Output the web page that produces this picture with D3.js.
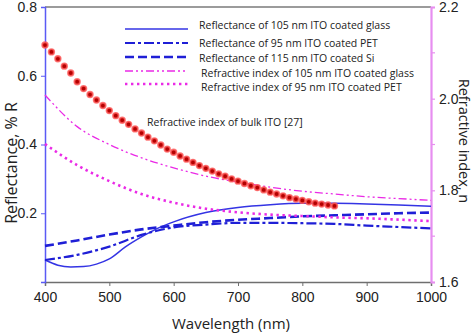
<!DOCTYPE html>
<html>
<head>
<meta charset="utf-8">
<script src="https://cdn.jsdelivr.net/npm/d3@7"></script>
<style>
  body { margin: 0; background: #fff; }
  svg { display: block; font-family: "Open Sans", "Noto Sans", sans-serif; }
</style>
</head>
<body>
<svg id="chart" width="474" height="336"></svg>
<script>
// Wavelength grids (nm)
var wlBulk = d3.range(400, 851, 10);
var wlFilm = [400, 450, 500, 550, 600, 650, 700, 750, 800, 850, 900, 950, 1000];
var wlGlassR = [400, 420, 440, 460, 480, 500, 525, 550, 575, 600, 650, 700, 750, 800, 850, 900, 950, 1000];

// Refractive index of bulk ITO
var nBulk = [2.117, 2.102, 2.087, 2.071, 2.056, 2.037, 2.022, 2.009, 1.997, 1.985,
             1.974, 1.963, 1.953, 1.944, 1.934, 1.925, 1.916, 1.908, 1.899, 1.890,
             1.883, 1.875, 1.868, 1.861, 1.854, 1.848, 1.842, 1.836, 1.831, 1.825,
             1.820, 1.815, 1.810, 1.806, 1.801, 1.796, 1.792, 1.788, 1.784, 1.781,
             1.778, 1.775, 1.772, 1.770, 1.768, 1.766];

// Refractive index of the films
var nGlass = [2.008, 1.939, 1.900, 1.871, 1.849, 1.831, 1.818, 1.807, 1.798, 1.792, 1.786, 1.782, 1.778];
var nPET = [1.901, 1.855, 1.820, 1.792, 1.773, 1.760, 1.752, 1.747, 1.744, 1.741, 1.739, 1.736, 1.733];

// Reflectance (% R)
var rGlass = [0.064, 0.049, 0.044, 0.045, 0.052, 0.067, 0.102, 0.131, 0.156, 0.175,
              0.202, 0.217, 0.225, 0.229, 0.229, 0.227, 0.224, 0.220];
var rPET = [0.064, 0.079, 0.103, 0.137, 0.159, 0.167, 0.172, 0.172, 0.171, 0.169, 0.164, 0.160, 0.156];
var rSi = [0.105, 0.121, 0.138, 0.153, 0.164, 0.174, 0.181, 0.186, 0.191, 0.194, 0.197, 0.200, 0.202];

var xTicks = [400, 500, 600, 700, 800, 900, 1000];
var yTicks = [0.2, 0.4, 0.6, 0.8];
var nTicks = [1.6, 1.8, 2.0, 2.2];
var nMinor = [1.7, 1.9, 2.1];

var legendLabels = [
  "Reflectance of 105 nm ITO coated glass",
  "Reflectance of 95 nm ITO coated PET",
  "Reflectance of 115 nm ITO coated Si",
  "Refractive index of 105 nm ITO coated glass",
  "Refractive index of 95 nm ITO coated PET"
];

var svg = d3.select("#chart");
var plotL = 45, plotR = 431, plotT = 7, plotB = 282;

var x = d3.scaleLinear().domain([400, 1000]).range([plotL, plotR]);
var yR = d3.scaleLinear().domain([0, 0.8]).range([plotB, plotT]);
var yN = d3.scaleLinear().domain([1.6, 2.2]).range([plotB, plotT]);

var blue = "#1f1fd6", magenta = "#ea2ae6";

// frame: top border and bottom axis
svg.append("line").attr("x1", plotL).attr("x2", plotR).attr("y1", plotT).attr("y2", plotT)
  .attr("stroke", "#7a7a7a").attr("stroke-width", 1.5);

var gx = svg.append("g").attr("transform", "translate(0," + plotB + ")")
  .call(d3.axisBottom(x).tickValues(xTicks).tickSize(4).tickPadding(6).tickFormat(d3.format("d")));
gx.select(".domain").attr("stroke", "#6f6f6f").attr("stroke-width", 1.5);
gx.selectAll(".tick line").attr("stroke", "#6f6f6f");
gx.selectAll("text").attr("font-size", 14).attr("fill", "#222");

var gy = svg.append("g").attr("transform", "translate(" + plotL + ",0)")
  .call(d3.axisLeft(yR).tickValues(yTicks).tickSize(4).tickPadding(4).tickFormat(d3.format(".1f")));
gy.select(".domain").attr("stroke", "#5a5af5").attr("stroke-width", 1.5);
gy.selectAll(".tick line").attr("stroke", "#5a5af5");
gy.selectAll("text").attr("font-size", 14).attr("fill", "#222");

var gn = svg.append("g").attr("transform", "translate(" + plotR + ",0)")
  .call(d3.axisRight(yN).tickValues(nTicks).tickSize(4).tickPadding(4).tickFormat(d3.format(".1f")));
gn.select(".domain").attr("stroke", "#e78ef0").attr("stroke-width", 2.2);
gn.selectAll(".tick line").attr("stroke", "#e78ef0").attr("stroke-width", 1.2);
gn.selectAll("text").attr("font-size", 14).attr("fill", "#222");
gn.selectAll(".minor").data(nMinor).enter().append("line")
  .attr("x1", 0).attr("x2", 4).attr("y1", yN).attr("y2", yN)
  .attr("stroke", "#e78ef0").attr("stroke-width", 1.2);

// axis titles
svg.append("text").attr("x", 231).attr("y", 329).attr("text-anchor", "middle")
  .attr("font-size", 15).attr("fill", "#222").text("Wavelength (nm)");
svg.append("text").attr("transform", "translate(17,163) rotate(-90)").attr("text-anchor", "middle")
  .attr("font-size", 16).attr("fill", "#222").text("Reflectance, % R");
svg.append("text").attr("transform", "translate(459,141) rotate(90)").attr("text-anchor", "middle")
  .attr("font-size", 14.5).attr("fill", "#222").text("Refractive index, n");

// series
var series = [
  { xs: wlGlassR, ys: rGlass, scale: yR, color: "#3434e4", width: 1.5, dash: null },
  { xs: wlFilm, ys: rPET, scale: yR, color: blue, width: 2.2, dash: "10,3,3,3" },
  { xs: wlFilm, ys: rSi, scale: yR, color: blue, width: 2.6, dash: "9,4" },
  { xs: wlFilm, ys: nGlass, scale: yN, color: magenta, width: 1.3, dash: "8,3,2,3,2,3" },
  { xs: wlFilm, ys: nPET, scale: yN, color: magenta, width: 2.6, dash: "2.4,3.6" }
];

series.forEach(function(s) {
  var line = d3.line()
    .x(function(d, i) { return x(s.xs[i]); })
    .y(function(d) { return s.scale(d); })
    .curve(d3.curveMonotoneX);
  svg.append("path").datum(s.ys)
    .attr("d", line)
    .attr("fill", "none")
    .attr("stroke", s.color)
    .attr("stroke-width", s.width)
    .attr("stroke-dasharray", s.dash);
});

// bulk ITO markers
svg.append("g").selectAll("circle").data(nBulk).enter().append("circle")
  .attr("cx", function(d, i) { return x(wlBulk[i]); })
  .attr("cy", function(d) { return yN(d); })
  .attr("r", 2.8)
  .attr("fill", "#b40000")
  .attr("stroke", "#ff5a5a")
  .attr("stroke-width", 1.8)
  .attr("stroke-opacity", 0.8);

svg.append("text").attr("x", 147).attr("y", 122).attr("dy", "0.35em")
  .attr("font-size", 10.5).attr("fill", "#222")
  .text("Refractive index of bulk ITO [27]");

// legend
var lineY = [29, 43, 57, 71, 84];
var textY = [25, 43, 58, 73, 87];
var textX = [199, 199, 199, 201, 201];
var leg = svg.append("g");
series.forEach(function(s, i) {
  leg.append("line").attr("x1", 125).attr("x2", 188).attr("y1", lineY[i]).attr("y2", lineY[i])
    .attr("stroke", s.color).attr("stroke-width", s.width).attr("stroke-dasharray", s.dash);
  leg.append("text").attr("x", textX[i]).attr("y", textY[i]).attr("dy", "0.35em")
    .attr("font-size", 10.5).attr("fill", "#222").text(legendLabels[i]);
});
</script>
</body>
</html>
